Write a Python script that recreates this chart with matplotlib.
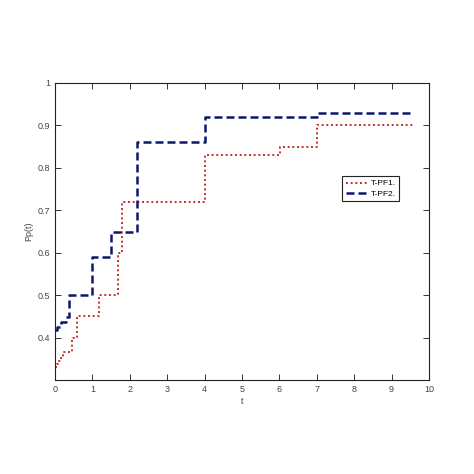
import matplotlib
matplotlib.use("Agg")
import matplotlib.pyplot as plt

# step data (time of jump, level after jump)
t_pf1 = [0, 0.05, 0.10, 0.15, 0.22, 0.45, 0.58, 1.19, 1.69, 1.78, 4.01, 6.02, 7.01, 9.63]
p_pf1 = [0.33, 0.337, 0.345, 0.355, 0.366, 0.40, 0.45, 0.50, 0.60, 0.72, 0.83, 0.85, 0.90, 0.90]

t_pf2 = [0, 0.05, 0.15, 0.29, 0.38, 0.98, 1.50, 2.18, 4.01, 7.00, 9.51]
p_pf2 = [0.417, 0.425, 0.437, 0.449, 0.50, 0.59, 0.65, 0.86, 0.92, 0.93, 0.93]

x_ticks = list(range(0, 11))
y_ticks = [0.4, 0.5, 0.6, 0.7, 0.8, 0.9, 1.0]
y_tick_labels = ["0.4", "0.5", "0.6", "0.7", "0.8", "0.9", "1"]

plt.rcParams["font.family"] = ["Liberation Sans", "DejaVu Sans"]

fig = plt.figure(figsize=(4.74, 4.74), dpi=100)
ax = fig.add_axes([0.116, 0.198, 0.789, 0.627])

ax.step(t_pf1, p_pf1, where="post", color="#c0302e", lw=1.4,
        linestyle=(0, (1, 1.4)), label="T-PF1.")
ax.step(t_pf2, p_pf2, where="post", color="#0c1670", lw=1.8,
        linestyle=(0, (3.2, 1.6)), label="T-PF2.")

ax.set_xlim(0, 10)
ax.set_ylim(0.3, 1.0)
ax.set_xticks(x_ticks)
ax.set_yticks(y_ticks)
ax.set_yticklabels(y_tick_labels)
ax.tick_params(direction="in", length=4, width=0.7, labelsize=6.5,
               top=True, right=True, colors="#333333", labelcolor="#444444")
for s in ax.spines.values():
    s.set_linewidth(0.8)
    s.set_color("#222222")

ax.set_xlabel("t", fontsize=6.5, color="#444444", labelpad=2)
ax.set_ylabel("Pp(t)", fontsize=6.5, color="#444444", labelpad=3)

leg = ax.legend(loc="upper left", bbox_to_anchor=(0.757, 0.70), fontsize=6,
                handlelength=2.6, handletextpad=0.4, borderpad=0.4,
                labelspacing=0.3, fancybox=False, framealpha=1)
leg.get_frame().set_edgecolor("#222222")
leg.get_frame().set_linewidth(0.8)

fig.savefig("out.png", dpi=100, facecolor="white")
